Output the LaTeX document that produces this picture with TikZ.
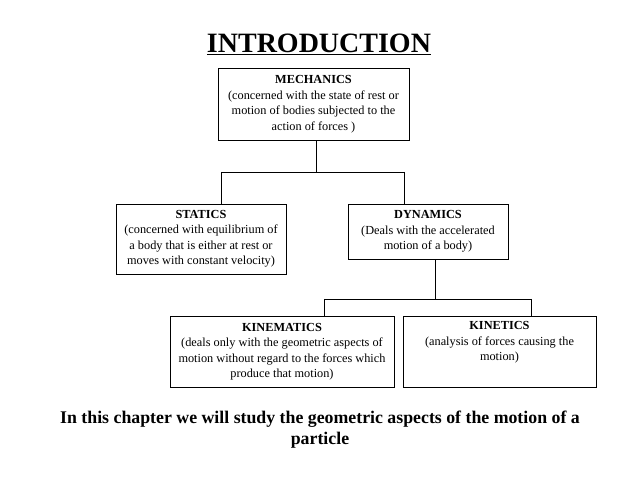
\documentclass[tikz,border=0pt]{standalone}
\usepackage{fontspec}
\setmainfont{Liberation Serif}
\begin{document}
\begin{tikzpicture}[x=1pt,y=-1pt,
 box/.style={draw,thin,minimum width=#1,inner sep=0pt,font=\fontsize{12.3}{15.5}\selectfont,align=center},
 link/.style={draw,thin}]
\useasboundingbox (0,0) rectangle (638,478);
\node[font=\fontsize{28}{32}\selectfont\bfseries] (t) at (319,44) {\underline{INTRODUCTION}};
\node[box=191pt,minimum height=72pt] (mech) at (313.5,104) {\textbf{MECHANICS}\\(concerned with the state of rest or\\motion of bodies subjected to the\\action of forces )};
\node[box=170pt,minimum height=70pt] (stat) at (201,239) {\textbf{STATICS}\\(concerned with equilibrium of\\a body that is either at rest or\\moves with constant velocity)};
\node[box=160pt,minimum height=55pt] (dyn) at (428,231.5) {\textbf{DYNAMICS}\\(Deals with the accelerated\\motion of a body)};
\node[box=224pt,minimum height=71pt] (kinem) at (282,351.5) {\textbf{KINEMATICS}\\(deals only with the geometric aspects of\\motion without regard to the forces which\\produce that motion)};
\node[box=193pt,minimum height=71pt] (kinet) at (499.5,351.5) {\textbf{KINETICS}\\(analysis of forces causing the\\motion)\\\strut};
\coordinate (m1) at (316,172);
\draw[link] (mech.south -| m1) -- (m1);
\draw[link] (221,172) -- (404,172);
\draw[link] (221,172) -- (stat.north -| 221,0);
\draw[link] (404,172) -- (dyn.north -| 404,0);
\coordinate (d1) at (435,299);
\draw[link] (dyn.south -| d1) -- (d1);
\draw[link] (324,299) -- (531,299);
\draw[link] (324,299) -- (kinem.north -| 324,0);
\draw[link] (531,299) -- (kinet.north -| 531,0);
\node[font=\fontsize{17.8}{21}\selectfont\bfseries,align=center] (c) at (320,430) {In this chapter we will study the geometric aspects of the motion of a\\particle};
\end{tikzpicture}
\end{document}
